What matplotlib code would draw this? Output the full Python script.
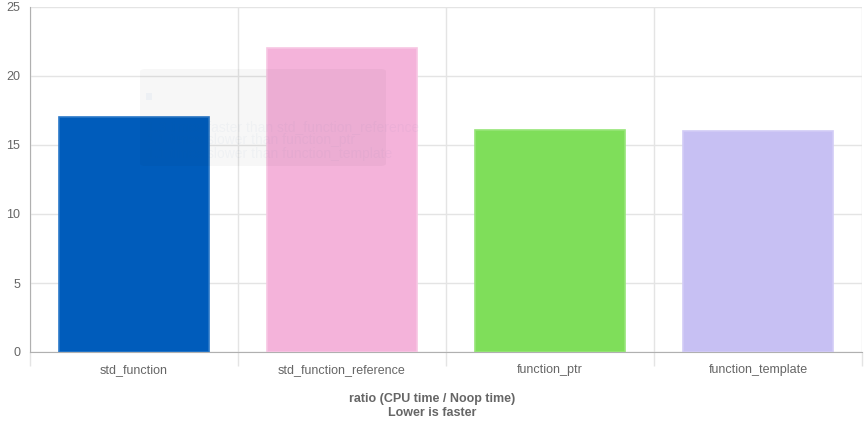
import matplotlib
matplotlib.use("Agg")
import numpy as np
from matplotlib import pyplot as plt
from matplotlib.patches import FancyBboxPatch

names = ["std_function", "std_function_reference", "function_ptr", "function_template"]
ratios = [17.0, 22.0, 16.1, 16.0]
colors = ["#005cbb", "#f4b3da", "#7fde5a", "#c7c0f3"]
edges = ["#2a78c8", "#f7c6e3", "#96e577", "#d2ccf6"]
yticks = [0, 5, 10, 15, 20, 25]
tooltip_lines = [
    "1.3 times faster than std_function_reference",
    "1.1 times slower than function_ptr",
    "1.1 times slower than function_template",
]

plt.rcParams["font.family"] = ["Liberation Sans", "DejaVu Sans"]

fig = plt.figure(figsize=(8.65, 4.32), dpi=100)
W, H = 865, 432
ax = fig.add_axes([30 / W, 1 - 352 / H, (862 - 30) / W, (352 - 7) / H])

x = np.arange(len(names))
ax.bar(x, ratios, width=0.72, color=colors, edgecolor=edges, linewidth=1.2, zorder=3)

ax.set_xlim(-0.5, len(names) - 0.5)
ax.set_ylim(0, 25)
ax.set_yticks(yticks)
ax.set_yticklabels([str(t) for t in yticks])
ax.set_xticks(x)
ax.set_xticklabels(names)
ax.set_xticks(np.arange(len(names) + 1) - 0.5, minor=True)

ax.grid(axis="y", color="#e4e4e4", linewidth=1, zorder=0)
ax.grid(axis="x", which="minor", color="#e4e4e4", linewidth=1, zorder=0)
ax.grid(axis="x", which="major", visible=False)

for side in ["top", "right"]:
    ax.spines[side].set_visible(False)
ax.spines["left"].set_color("#b0b0b0")
ax.spines["bottom"].set_color("#b0b0b0")

ax.tick_params(axis="y", length=0, pad=7, labelsize=9, labelcolor="#666666")
ax.tick_params(axis="x", which="major", length=0, pad=9, labelsize=9, labelcolor="#666666")
ax.tick_params(axis="x", which="minor", length=10, color="#e4e4e4", width=1)

fig.text(432 / W, 1 - 406 / H, "ratio (CPU time / Noop time)\nLower is faster", fontsize=9,
         fontweight="bold", color="#666666", ha="center", va="center", linespacing=1.15)

# faded tooltip left over from hover
box = FancyBboxPatch((140 / W, 1 - 166 / H), (386 - 140) / W, (166 - 69) / H,
                     boxstyle="round,pad=0,rounding_size=0.006", transform=fig.transFigure,
                     facecolor="#000000", alpha=0.03, edgecolor="none", zorder=10)
fig.patches.append(box)
fig.patches.append(plt.Rectangle((146 / W, 1 - 100 / H), 6 / W, 7 / H,
                                 transform=fig.transFigure, facecolor="#c8d4e8",
                                 alpha=0.2, edgecolor="none", zorder=11))
for i, line in enumerate(tooltip_lines):
    fig.text(147 / W, 1 - (127 + 13.5 * i) / H, line, fontsize=10, color="#2a5a9a",
             alpha=0.035, va="center", ha="left", zorder=11)

fig.savefig("out.png", dpi=100)
